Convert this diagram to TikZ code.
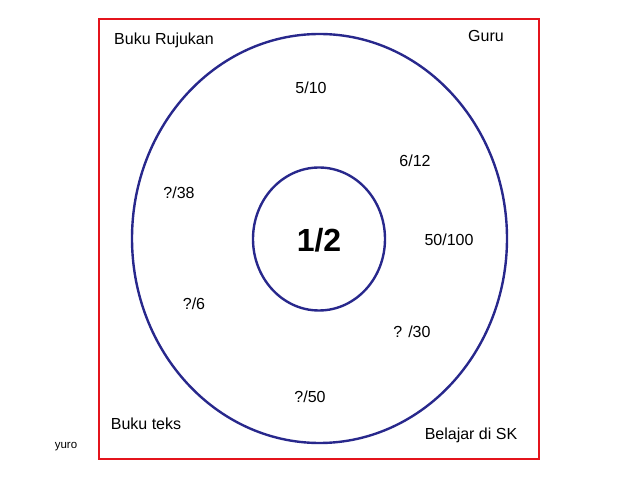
\documentclass[tikz,border=0pt]{standalone}
\usepackage{fontspec}
\setmainfont{Liberation Sans}
\definecolor{ringblue}{RGB}{40,40,140}
\definecolor{framered}{RGB}{228,20,28}
\tikzset{
  lbl/.style={inner sep=0pt, font=\fontsize{16}{19}\selectfont},
  ring/.style={draw=ringblue, line width=2.4pt}
}
\begin{document}
\begin{tikzpicture}[x=1pt, y=-1pt]

\useasboundingbox (0,0) rectangle (638,478);

\draw [framered, line width=2.4pt] (99,19) rectangle (539,459);

\draw [ring] (319.5,238.5) ellipse [x radius=187.5, y radius=204.5];
\draw [ring] (319,239) ellipse [x radius=66, y radius=71.5];

\node (half) [inner sep=0pt, font=\bfseries\fontsize{32}{36}\selectfont] at (319,240) {1/2};

\node (rujukan) [lbl] at (164,40) {Buku Rujukan};
\node (guru) [lbl] at (486,36) {Guru};
\node (teks) [lbl] at (146,424) {Buku teks};
\node (sk) [lbl] at (471,435) {Belajar di SK};

\node (a) [lbl] at (311,88) {5/10};
\node (b) [lbl] at (415,161) {6/12};
\node (c) [lbl] at (179,193) {?/38};
\node (d) [lbl] at (449,240) {50/100};
\node (e) [lbl] at (194,304) {?/6};
\node (f) [lbl] at (412,332) {? /30};
\node (g) [lbl] at (310,397) {?/50};

\node (yuro) [inner sep=0pt, font=\fontsize{11.5}{14}\selectfont] at (66,447) {yuro};

\end{tikzpicture}
\end{document}
